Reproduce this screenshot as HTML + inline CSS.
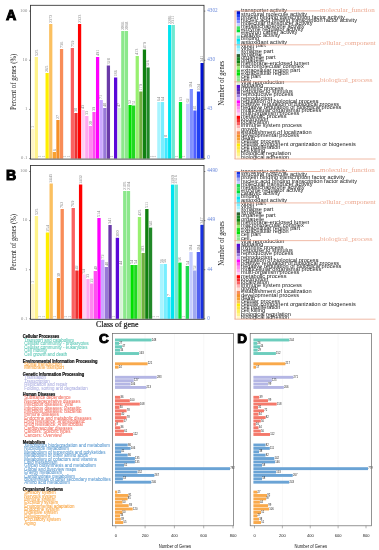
<!DOCTYPE html>
<html><head><meta charset="utf-8"><title>GO and KEGG classification</title>
<style>html,body{margin:0;padding:0;background:#fff;} body{width:379px;height:550px;overflow:hidden;position:relative;}</style>
</head><body>
<svg width="379" height="550" viewBox="0 0 379 550" style="position:absolute;left:0;top:0">
<rect width="379" height="550" fill="#fff"/>
<text x="5.9" y="19.60" font-family="'Liberation Sans', Arial, sans-serif" font-weight="bold" font-size="14.2" fill="#000" stroke="#000" stroke-width="1.0">A</text>
<rect x="31.10" y="129" width="3.25" height="29.60" fill="#fff6c8"/>
<text transform="translate(33.90,128.00) rotate(-90)" font-family="'Liberation Serif', 'Times New Roman', serif" font-size="4.2" fill="#858585">1</text>
<rect x="34.70" y="57" width="3.25" height="101.60" fill="#fff38a"/>
<text transform="translate(37.51,56.00) rotate(-90)" font-family="'Liberation Serif', 'Times New Roman', serif" font-size="4.2" fill="#858585">525</text>
<text transform="translate(41.11,157.60) rotate(-90)" font-family="'Liberation Serif', 'Times New Roman', serif" font-size="4.2" fill="#858585">1</text>
<text transform="translate(44.71,157.60) rotate(-90)" font-family="'Liberation Serif', 'Times New Roman', serif" font-size="4.2" fill="#858585">1</text>
<rect x="45.52" y="73" width="3.25" height="85.60" fill="#ffee00"/>
<text transform="translate(48.32,72.00) rotate(-90)" font-family="'Liberation Serif', 'Times New Roman', serif" font-size="4.2" fill="#858585">265</text>
<rect x="49.12" y="24" width="3.25" height="134.60" fill="#fbc060"/>
<text transform="translate(51.92,23.00) rotate(-90)" font-family="'Liberation Serif', 'Times New Roman', serif" font-size="4.2" fill="#858585">2372</text>
<rect x="52.72" y="152" width="3.25" height="6.60" fill="#f8a030"/>
<text transform="translate(55.53,151.00) rotate(-90)" font-family="'Liberation Serif', 'Times New Roman', serif" font-size="4.2" fill="#858585">6</text>
<rect x="56.33" y="120" width="3.25" height="38.60" fill="#f59028"/>
<text transform="translate(59.13,119.00) rotate(-90)" font-family="'Liberation Serif', 'Times New Roman', serif" font-size="4.2" fill="#858585">27</text>
<rect x="59.93" y="49" width="3.25" height="109.60" fill="#f88c58"/>
<text transform="translate(62.73,48.00) rotate(-90)" font-family="'Liberation Serif', 'Times New Roman', serif" font-size="4.2" fill="#858585">736</text>
<text transform="translate(66.34,157.60) rotate(-90)" font-family="'Liberation Serif', 'Times New Roman', serif" font-size="4.2" fill="#858585">1</text>
<text transform="translate(69.94,157.60) rotate(-90)" font-family="'Liberation Serif', 'Times New Roman', serif" font-size="4.2" fill="#858585">1</text>
<rect x="70.74" y="48" width="3.25" height="110.60" fill="#fa6060"/>
<text transform="translate(73.55,47.00) rotate(-90)" font-family="'Liberation Serif', 'Times New Roman', serif" font-size="4.2" fill="#858585">759</text>
<rect x="74.35" y="113" width="3.25" height="45.60" fill="#ee3030"/>
<text transform="translate(77.15,112.00) rotate(-90)" font-family="'Liberation Serif', 'Times New Roman', serif" font-size="4.2" fill="#858585">38</text>
<rect x="77.95" y="24" width="3.25" height="134.60" fill="#ff0000"/>
<text transform="translate(80.75,23.00) rotate(-90)" font-family="'Liberation Serif', 'Times New Roman', serif" font-size="4.2" fill="#858585">2323</text>
<rect x="81.56" y="110" width="3.25" height="48.60" fill="#ffd0f4"/>
<text transform="translate(84.36,109.00) rotate(-90)" font-family="'Liberation Serif', 'Times New Roman', serif" font-size="4.2" fill="#858585">43</text>
<rect x="85.16" y="116" width="3.25" height="42.60" fill="#ffa8f0"/>
<text transform="translate(87.96,115.00) rotate(-90)" font-family="'Liberation Serif', 'Times New Roman', serif" font-size="4.2" fill="#858585">33</text>
<rect x="88.76" y="126" width="3.25" height="32.60" fill="#ff88f0"/>
<text transform="translate(91.57,125.00) rotate(-90)" font-family="'Liberation Serif', 'Times New Roman', serif" font-size="4.2" fill="#858585">20</text>
<rect x="92.37" y="112" width="3.25" height="46.60" fill="#ff50f0"/>
<text transform="translate(95.17,111.00) rotate(-90)" font-family="'Liberation Serif', 'Times New Roman', serif" font-size="4.2" fill="#858585">39</text>
<rect x="95.97" y="57" width="3.25" height="101.60" fill="#ff00ff"/>
<text transform="translate(98.77,56.00) rotate(-90)" font-family="'Liberation Serif', 'Times New Roman', serif" font-size="4.2" fill="#858585">491</text>
<rect x="99.58" y="100" width="3.25" height="58.60" fill="#cca8ff"/>
<text transform="translate(102.38,99.00) rotate(-90)" font-family="'Liberation Serif', 'Times New Roman', serif" font-size="4.2" fill="#858585">71</text>
<rect x="103.18" y="108" width="3.25" height="50.60" fill="#9878d8"/>
<text transform="translate(105.98,107.00) rotate(-90)" font-family="'Liberation Serif', 'Times New Roman', serif" font-size="4.2" fill="#858585">48</text>
<rect x="106.78" y="65.5" width="3.25" height="93.10" fill="#6a3aa8"/>
<text transform="translate(109.59,64.50) rotate(-90)" font-family="'Liberation Serif', 'Times New Roman', serif" font-size="4.2" fill="#858585">328</text>
<text transform="translate(113.19,157.60) rotate(-90)" font-family="'Liberation Serif', 'Times New Roman', serif" font-size="4.2" fill="#858585">1</text>
<rect x="113.99" y="77.5" width="3.25" height="81.10" fill="#5a08d8"/>
<text transform="translate(116.79,76.50) rotate(-90)" font-family="'Liberation Serif', 'Times New Roman', serif" font-size="4.2" fill="#858585">186</text>
<rect x="117.60" y="108" width="3.25" height="50.60" fill="#d8f4d8"/>
<text transform="translate(120.40,107.00) rotate(-90)" font-family="'Liberation Serif', 'Times New Roman', serif" font-size="4.2" fill="#858585">47</text>
<rect x="121.20" y="31" width="3.25" height="127.60" fill="#8ce88c"/>
<text transform="translate(124.00,30.00) rotate(-90)" font-family="'Liberation Serif', 'Times New Roman', serif" font-size="4.2" fill="#858585">2066</text>
<rect x="124.80" y="31" width="3.25" height="127.60" fill="#8ce88c"/>
<text transform="translate(127.61,30.00) rotate(-90)" font-family="'Liberation Serif', 'Times New Roman', serif" font-size="4.2" fill="#858585">2068</text>
<rect x="128.41" y="105" width="3.25" height="53.60" fill="#00e000"/>
<text transform="translate(131.21,104.00) rotate(-90)" font-family="'Liberation Serif', 'Times New Roman', serif" font-size="4.2" fill="#858585">52</text>
<rect x="132.01" y="105.5" width="3.25" height="53.10" fill="#20d820"/>
<text transform="translate(134.81,104.50) rotate(-90)" font-family="'Liberation Serif', 'Times New Roman', serif" font-size="4.2" fill="#858585">51</text>
<rect x="135.62" y="56" width="3.25" height="102.60" fill="#98f070"/>
<text transform="translate(138.42,55.00) rotate(-90)" font-family="'Liberation Serif', 'Times New Roman', serif" font-size="4.2" fill="#858585">413</text>
<rect x="139.22" y="91.5" width="3.25" height="67.10" fill="#70b040"/>
<text transform="translate(142.02,90.50) rotate(-90)" font-family="'Liberation Serif', 'Times New Roman', serif" font-size="4.2" fill="#858585">179</text>
<rect x="142.82" y="49.5" width="3.25" height="109.10" fill="#108010"/>
<text transform="translate(145.63,48.50) rotate(-90)" font-family="'Liberation Serif', 'Times New Roman', serif" font-size="4.2" fill="#858585">479</text>
<rect x="146.43" y="67.5" width="3.25" height="91.10" fill="#208828"/>
<text transform="translate(149.23,66.50) rotate(-90)" font-family="'Liberation Serif', 'Times New Roman', serif" font-size="4.2" fill="#858585">326</text>
<text transform="translate(152.83,157.60) rotate(-90)" font-family="'Liberation Serif', 'Times New Roman', serif" font-size="4.2" fill="#858585">1</text>
<text transform="translate(156.44,157.60) rotate(-90)" font-family="'Liberation Serif', 'Times New Roman', serif" font-size="4.2" fill="#858585">1</text>
<rect x="157.24" y="102" width="3.25" height="56.60" fill="#a8f4ff"/>
<text transform="translate(160.04,101.00) rotate(-90)" font-family="'Liberation Serif', 'Times New Roman', serif" font-size="4.2" fill="#858585">64</text>
<rect x="160.84" y="102" width="3.25" height="56.60" fill="#78eeff"/>
<text transform="translate(163.65,101.00) rotate(-90)" font-family="'Liberation Serif', 'Times New Roman', serif" font-size="4.2" fill="#858585">64</text>
<rect x="164.45" y="138" width="3.25" height="20.60" fill="#40e8ff"/>
<text transform="translate(167.25,137.00) rotate(-90)" font-family="'Liberation Serif', 'Times New Roman', serif" font-size="4.2" fill="#858585">8</text>
<rect x="168.05" y="25" width="3.25" height="133.60" fill="#00e4f0"/>
<text transform="translate(170.85,24.00) rotate(-90)" font-family="'Liberation Serif', 'Times New Roman', serif" font-size="4.2" fill="#858585">2286</text>
<rect x="171.66" y="25" width="3.25" height="133.60" fill="#70e8d0"/>
<text transform="translate(174.46,24.00) rotate(-90)" font-family="'Liberation Serif', 'Times New Roman', serif" font-size="4.2" fill="#858585">2311</text>
<text transform="translate(178.06,157.60) rotate(-90)" font-family="'Liberation Serif', 'Times New Roman', serif" font-size="4.2" fill="#858585">1</text>
<rect x="178.86" y="102" width="3.25" height="56.60" fill="#00dd30"/>
<text transform="translate(181.67,101.00) rotate(-90)" font-family="'Liberation Serif', 'Times New Roman', serif" font-size="4.2" fill="#858585">63</text>
<text transform="translate(185.27,157.60) rotate(-90)" font-family="'Liberation Serif', 'Times New Roman', serif" font-size="4.2" fill="#858585">1</text>
<rect x="186.07" y="103.6" width="3.25" height="55.00" fill="#c4ccff"/>
<text transform="translate(188.87,102.60) rotate(-90)" font-family="'Liberation Serif', 'Times New Roman', serif" font-size="4.2" fill="#858585">62</text>
<rect x="189.68" y="89" width="3.25" height="69.60" fill="#8090ff"/>
<text transform="translate(192.48,88.00) rotate(-90)" font-family="'Liberation Serif', 'Times New Roman', serif" font-size="4.2" fill="#858585">104</text>
<rect x="193.28" y="110.5" width="3.25" height="48.10" fill="#5060ff"/>
<text transform="translate(196.08,109.50) rotate(-90)" font-family="'Liberation Serif', 'Times New Roman', serif" font-size="4.2" fill="#858585">41</text>
<rect x="196.88" y="91.5" width="3.25" height="67.10" fill="#2040f0"/>
<text transform="translate(199.69,90.50) rotate(-90)" font-family="'Liberation Serif', 'Times New Roman', serif" font-size="4.2" fill="#858585">104</text>
<rect x="200.49" y="63" width="3.25" height="95.60" fill="#0010d0"/>
<text transform="translate(203.29,62.00) rotate(-90)" font-family="'Liberation Serif', 'Times New Roman', serif" font-size="4.2" fill="#858585">341</text>
<rect x="30.5" y="5.3" width="173.5" height="153.79999999999998" fill="none" stroke="#303030" stroke-width="0.85"/>
<text x="27.6" y="11.90" text-anchor="end" font-family="'Liberation Serif', 'Times New Roman', serif" font-size="4.6" letter-spacing="0.25" fill="#8a8a8a">100</text>
<line x1="29.2" x2="30.5" y1="11.10" y2="11.10" stroke="#333" stroke-width="0.6"/>
<text x="27.6" y="61.07" text-anchor="end" font-family="'Liberation Serif', 'Times New Roman', serif" font-size="4.6" letter-spacing="0.25" fill="#8a8a8a">10</text>
<line x1="29.2" x2="30.5" y1="60.27" y2="60.27" stroke="#333" stroke-width="0.6"/>
<text x="27.6" y="110.23" text-anchor="end" font-family="'Liberation Serif', 'Times New Roman', serif" font-size="4.6" letter-spacing="0.25" fill="#8a8a8a">1</text>
<line x1="29.2" x2="30.5" y1="109.43" y2="109.43" stroke="#333" stroke-width="0.6"/>
<text x="27.6" y="159.40" text-anchor="end" font-family="'Liberation Serif', 'Times New Roman', serif" font-size="4.6" letter-spacing="0.25" fill="#8a8a8a">0.1</text>
<line x1="29.2" x2="30.5" y1="158.60" y2="158.60" stroke="#333" stroke-width="0.6"/>
<text x="207.2" y="11.90" font-family="'Liberation Serif', 'Times New Roman', serif" font-size="5.2" fill="#6a88da">4302</text>
<line x1="204" x2="205.3" y1="11.10" y2="11.10" stroke="#333" stroke-width="0.6"/>
<text x="207.2" y="61.07" font-family="'Liberation Serif', 'Times New Roman', serif" font-size="5.2" fill="#6a88da">430</text>
<line x1="204" x2="205.3" y1="60.27" y2="60.27" stroke="#333" stroke-width="0.6"/>
<text x="207.2" y="110.23" font-family="'Liberation Serif', 'Times New Roman', serif" font-size="5.2" fill="#6a88da">43</text>
<line x1="204" x2="205.3" y1="109.43" y2="109.43" stroke="#333" stroke-width="0.6"/>
<text x="207.2" y="159.40" font-family="'Liberation Serif', 'Times New Roman', serif" font-size="5.2" fill="#6a88da">0</text>
<line x1="204" x2="205.3" y1="158.60" y2="158.60" stroke="#333" stroke-width="0.6"/>
<text transform="translate(16.1,81.9) rotate(-90) scale(0.9,1)" text-anchor="middle" font-family="'Liberation Serif', 'Times New Roman', serif" font-size="7.5" fill="#2a2a2a">Percent of genes (%)</text>
<text transform="translate(223.6,83.2) rotate(-90) scale(0.9,1)" text-anchor="middle" font-family="'Liberation Serif', 'Times New Roman', serif" font-size="7.2" fill="#151515">Number of genes</text>
<rect x="236.7" y="10.90" width="3.3" height="3.14" fill="#0010d0"/>
<rect x="236.7" y="13.99" width="3.3" height="3.14" fill="#2040f0"/>
<rect x="236.7" y="17.07" width="3.3" height="3.14" fill="#5060ff"/>
<rect x="236.7" y="20.16" width="3.3" height="3.14" fill="#8090ff"/>
<rect x="236.7" y="23.24" width="3.3" height="3.14" fill="#c4ccff"/>
<rect x="236.7" y="26.33" width="3.3" height="3.14" fill="#40e060"/>
<rect x="236.7" y="29.41" width="3.3" height="3.14" fill="#00dd30"/>
<rect x="236.7" y="32.50" width="3.3" height="3.14" fill="#e0f8f0"/>
<rect x="236.7" y="35.58" width="3.3" height="3.14" fill="#70e8d0"/>
<rect x="236.7" y="38.67" width="3.3" height="3.14" fill="#00e4f0"/>
<rect x="236.7" y="41.75" width="3.3" height="3.14" fill="#40e8ff"/>
<rect x="236.7" y="44.84" width="3.3" height="3.14" fill="#78eeff"/>
<rect x="236.7" y="47.92" width="3.3" height="3.14" fill="#a8f4ff"/>
<rect x="236.7" y="51.01" width="3.3" height="3.14" fill="#c8f8ff"/>
<rect x="236.7" y="54.10" width="3.3" height="3.14" fill="#306030"/>
<rect x="236.7" y="57.18" width="3.3" height="3.14" fill="#208828"/>
<rect x="236.7" y="60.27" width="3.3" height="3.14" fill="#108010"/>
<rect x="236.7" y="63.35" width="3.3" height="3.14" fill="#70b040"/>
<rect x="236.7" y="66.44" width="3.3" height="3.14" fill="#98f070"/>
<rect x="236.7" y="69.52" width="3.3" height="3.14" fill="#20d820"/>
<rect x="236.7" y="72.61" width="3.3" height="3.14" fill="#00e000"/>
<rect x="236.7" y="75.69" width="3.3" height="3.14" fill="#8ce88c"/>
<rect x="236.7" y="78.78" width="3.3" height="3.14" fill="#8ce88c"/>
<rect x="236.7" y="81.86" width="3.3" height="3.14" fill="#d8f4d8"/>
<rect x="236.7" y="84.95" width="3.3" height="3.14" fill="#5a08d8"/>
<rect x="236.7" y="88.04" width="3.3" height="3.14" fill="#5028b8"/>
<rect x="236.7" y="91.12" width="3.3" height="3.14" fill="#6a3aa8"/>
<rect x="236.7" y="94.21" width="3.3" height="3.14" fill="#9878d8"/>
<rect x="236.7" y="97.29" width="3.3" height="3.14" fill="#cca8ff"/>
<rect x="236.7" y="100.38" width="3.3" height="3.14" fill="#ff00ff"/>
<rect x="236.7" y="103.46" width="3.3" height="3.14" fill="#ff50f0"/>
<rect x="236.7" y="106.55" width="3.3" height="3.14" fill="#ff88f0"/>
<rect x="236.7" y="109.63" width="3.3" height="3.14" fill="#ffa8f0"/>
<rect x="236.7" y="112.72" width="3.3" height="3.14" fill="#ffd0f4"/>
<rect x="236.7" y="115.80" width="3.3" height="3.14" fill="#ff0000"/>
<rect x="236.7" y="118.89" width="3.3" height="3.14" fill="#ee3030"/>
<rect x="236.7" y="121.98" width="3.3" height="3.14" fill="#fa6060"/>
<rect x="236.7" y="125.06" width="3.3" height="3.14" fill="#ffb0b0"/>
<rect x="236.7" y="128.15" width="3.3" height="3.14" fill="#ffe0d8"/>
<rect x="236.7" y="131.23" width="3.3" height="3.14" fill="#f88c58"/>
<rect x="236.7" y="134.32" width="3.3" height="3.14" fill="#f59028"/>
<rect x="236.7" y="137.40" width="3.3" height="3.14" fill="#f8a030"/>
<rect x="236.7" y="140.49" width="3.3" height="3.14" fill="#fbc060"/>
<rect x="236.7" y="143.57" width="3.3" height="3.14" fill="#ffee00"/>
<rect x="236.7" y="146.66" width="3.3" height="3.14" fill="#ffe840"/>
<rect x="236.7" y="149.74" width="3.3" height="3.14" fill="#fff060"/>
<rect x="236.7" y="152.83" width="3.3" height="3.14" fill="#fff38a"/>
<rect x="236.7" y="155.91" width="3.3" height="3.14" fill="#fff6c8"/>
<text transform="translate(241.0,12.40) scale(1.23,1)" font-family="'Liberation Sans', Arial, sans-serif" font-size="4.6" fill="#222">transporter activity</text>
<text transform="translate(241.0,15.51) scale(1.23,1)" font-family="'Liberation Sans', Arial, sans-serif" font-size="4.6" fill="#222">structural molecule activity</text>
<text transform="translate(241.0,18.62) scale(1.23,1)" font-family="'Liberation Sans', Arial, sans-serif" font-size="4.6" fill="#222">protein binding transcription factor activity</text>
<text transform="translate(241.0,21.73) scale(1.23,1)" font-family="'Liberation Sans', Arial, sans-serif" font-size="4.6" fill="#222">nucleic acid binding transcription factor activity</text>
<text transform="translate(241.0,24.84) scale(1.23,1)" font-family="'Liberation Sans', Arial, sans-serif" font-size="4.6" fill="#222">molecular transducer activity</text>
<text transform="translate(241.0,27.95) scale(1.23,1)" font-family="'Liberation Sans', Arial, sans-serif" font-size="4.6" fill="#222">metallochaperone activity</text>
<text transform="translate(241.0,31.06) scale(1.23,1)" font-family="'Liberation Sans', Arial, sans-serif" font-size="4.6" fill="#222">enzyme regulator activity</text>
<text transform="translate(241.0,34.17) scale(1.23,1)" font-family="'Liberation Sans', Arial, sans-serif" font-size="4.6" fill="#222">electron carrier activity</text>
<text transform="translate(241.0,37.29) scale(1.23,1)" font-family="'Liberation Sans', Arial, sans-serif" font-size="4.6" fill="#222">catalytic activity</text>
<text transform="translate(241.0,40.40) scale(1.23,1)" font-family="'Liberation Sans', Arial, sans-serif" font-size="4.6" fill="#222">binding</text>
<text transform="translate(241.0,43.51) scale(1.23,1)" font-family="'Liberation Sans', Arial, sans-serif" font-size="4.6" fill="#222">antioxidant activity</text>
<text transform="translate(241.0,46.62) scale(1.23,1)" font-family="'Liberation Sans', Arial, sans-serif" font-size="4.6" fill="#222">virion part</text>
<text transform="translate(241.0,49.73) scale(1.23,1)" font-family="'Liberation Sans', Arial, sans-serif" font-size="4.6" fill="#222">virion</text>
<text transform="translate(241.0,52.84) scale(1.23,1)" font-family="'Liberation Sans', Arial, sans-serif" font-size="4.6" fill="#222">synapse part</text>
<text transform="translate(241.0,55.95) scale(1.23,1)" font-family="'Liberation Sans', Arial, sans-serif" font-size="4.6" fill="#222">synapse</text>
<text transform="translate(241.0,59.06) scale(1.23,1)" font-family="'Liberation Sans', Arial, sans-serif" font-size="4.6" fill="#222">organelle part</text>
<text transform="translate(241.0,62.17) scale(1.23,1)" font-family="'Liberation Sans', Arial, sans-serif" font-size="4.6" fill="#222">organelle</text>
<text transform="translate(241.0,65.28) scale(1.23,1)" font-family="'Liberation Sans', Arial, sans-serif" font-size="4.6" fill="#222">membrane-enclosed lumen</text>
<text transform="translate(241.0,68.39) scale(1.23,1)" font-family="'Liberation Sans', Arial, sans-serif" font-size="4.6" fill="#222">macromolecular complex</text>
<text transform="translate(241.0,71.50) scale(1.23,1)" font-family="'Liberation Sans', Arial, sans-serif" font-size="4.6" fill="#222">extracellular region part</text>
<text transform="translate(241.0,74.61) scale(1.23,1)" font-family="'Liberation Sans', Arial, sans-serif" font-size="4.6" fill="#222">extracellular region</text>
<text transform="translate(241.0,77.72) scale(1.23,1)" font-family="'Liberation Sans', Arial, sans-serif" font-size="4.6" fill="#222">cell part</text>
<text transform="translate(241.0,80.83) scale(1.23,1)" font-family="'Liberation Sans', Arial, sans-serif" font-size="4.6" fill="#222">cell</text>
<text transform="translate(241.0,83.94) scale(1.23,1)" font-family="'Liberation Sans', Arial, sans-serif" font-size="4.6" fill="#222">viral reproduction</text>
<text transform="translate(241.0,87.06) scale(1.23,1)" font-family="'Liberation Sans', Arial, sans-serif" font-size="4.6" fill="#222">signaling</text>
<text transform="translate(241.0,90.17) scale(1.23,1)" font-family="'Liberation Sans', Arial, sans-serif" font-size="4.6" fill="#222">rhythmic process</text>
<text transform="translate(241.0,93.28) scale(1.23,1)" font-family="'Liberation Sans', Arial, sans-serif" font-size="4.6" fill="#222">response to stimulus</text>
<text transform="translate(241.0,96.39) scale(1.23,1)" font-family="'Liberation Sans', Arial, sans-serif" font-size="4.6" fill="#222">reproductive process</text>
<text transform="translate(241.0,99.50) scale(1.23,1)" font-family="'Liberation Sans', Arial, sans-serif" font-size="4.6" fill="#222">reproduction</text>
<text transform="translate(241.0,102.61) scale(1.23,1)" font-family="'Liberation Sans', Arial, sans-serif" font-size="4.6" fill="#222">regulation of biological process</text>
<text transform="translate(241.0,105.72) scale(1.23,1)" font-family="'Liberation Sans', Arial, sans-serif" font-size="4.6" fill="#222">positive regulation of biological process</text>
<text transform="translate(241.0,108.83) scale(1.23,1)" font-family="'Liberation Sans', Arial, sans-serif" font-size="4.6" fill="#222">negative regulation of biological process</text>
<text transform="translate(241.0,111.94) scale(1.23,1)" font-family="'Liberation Sans', Arial, sans-serif" font-size="4.6" fill="#222">multicellular organismal process</text>
<text transform="translate(241.0,115.05) scale(1.23,1)" font-family="'Liberation Sans', Arial, sans-serif" font-size="4.6" fill="#222">multi-organism process</text>
<text transform="translate(241.0,118.16) scale(1.23,1)" font-family="'Liberation Sans', Arial, sans-serif" font-size="4.6" fill="#222">metabolic process</text>
<text transform="translate(241.0,121.27) scale(1.23,1)" font-family="'Liberation Sans', Arial, sans-serif" font-size="4.6" fill="#222">locomotion</text>
<text transform="translate(241.0,124.38) scale(1.23,1)" font-family="'Liberation Sans', Arial, sans-serif" font-size="4.6" fill="#222">localization</text>
<text transform="translate(241.0,127.49) scale(1.23,1)" font-family="'Liberation Sans', Arial, sans-serif" font-size="4.6" fill="#222">immune system process</text>
<text transform="translate(241.0,130.60) scale(1.23,1)" font-family="'Liberation Sans', Arial, sans-serif" font-size="4.6" fill="#222">growth</text>
<text transform="translate(241.0,133.71) scale(1.23,1)" font-family="'Liberation Sans', Arial, sans-serif" font-size="4.6" fill="#222">establishment of localization</text>
<text transform="translate(241.0,136.83) scale(1.23,1)" font-family="'Liberation Sans', Arial, sans-serif" font-size="4.6" fill="#222">developmental process</text>
<text transform="translate(241.0,139.94) scale(1.23,1)" font-family="'Liberation Sans', Arial, sans-serif" font-size="4.6" fill="#222">death</text>
<text transform="translate(241.0,143.05) scale(1.23,1)" font-family="'Liberation Sans', Arial, sans-serif" font-size="4.6" fill="#222">cellular process</text>
<text transform="translate(241.0,146.16) scale(1.23,1)" font-family="'Liberation Sans', Arial, sans-serif" font-size="4.6" fill="#222">cellular component organization or biogenesis</text>
<text transform="translate(241.0,149.27) scale(1.23,1)" font-family="'Liberation Sans', Arial, sans-serif" font-size="4.6" fill="#222">cell proliferation</text>
<text transform="translate(241.0,152.38) scale(1.23,1)" font-family="'Liberation Sans', Arial, sans-serif" font-size="4.6" fill="#222">cell killing</text>
<text transform="translate(241.0,155.49) scale(1.23,1)" font-family="'Liberation Sans', Arial, sans-serif" font-size="4.6" fill="#222">biological regulation</text>
<text transform="translate(241.0,158.60) scale(1.23,1)" font-family="'Liberation Sans', Arial, sans-serif" font-size="4.6" fill="#222">biological adhesion</text>
<line x1="235.1" x2="235.1" y1="10.9" y2="159.0" stroke="#f2bfae" stroke-width="1.4"/>
<line x1="234.5" x2="320" y1="10.90" y2="10.90" stroke="#eca890" stroke-width="0.8"/>
<text x="320.0" y="11.50" font-family="'Liberation Serif', 'Times New Roman', serif" font-size="7.0" fill="#eca890">molecular_function</text>
<line x1="234.5" x2="320" y1="44.84" y2="44.84" stroke="#eca890" stroke-width="0.8"/>
<text x="320.0" y="45.44" font-family="'Liberation Serif', 'Times New Roman', serif" font-size="7.0" fill="#eca890">cellular_component</text>
<line x1="234.5" x2="320" y1="81.86" y2="81.86" stroke="#eca890" stroke-width="0.8"/>
<text x="320.0" y="82.46" font-family="'Liberation Serif', 'Times New Roman', serif" font-size="7.0" fill="#eca890">biological_process</text>
<line x1="234.5" x2="375.5" y1="159.0" y2="159.0" stroke="#eca890" stroke-width="0.8"/>
<text x="5.9" y="179.80" font-family="'Liberation Sans', Arial, sans-serif" font-weight="bold" font-size="14.2" fill="#000" stroke="#000" stroke-width="1.0">B</text>
<rect x="31.10" y="284" width="3.33" height="34.80" fill="#fff6c8"/>
<text transform="translate(33.94,283.00) rotate(-90)" font-family="'Liberation Serif', 'Times New Roman', serif" font-size="4.2" fill="#858585">1</text>
<rect x="34.78" y="216" width="3.33" height="102.80" fill="#fff38a"/>
<text transform="translate(37.62,215.00) rotate(-90)" font-family="'Liberation Serif', 'Times New Roman', serif" font-size="4.2" fill="#858585">525</text>
<text transform="translate(41.30,317.80) rotate(-90)" font-family="'Liberation Serif', 'Times New Roman', serif" font-size="4.2" fill="#858585">1</text>
<text transform="translate(44.98,317.80) rotate(-90)" font-family="'Liberation Serif', 'Times New Roman', serif" font-size="4.2" fill="#858585">1</text>
<rect x="45.82" y="232.5" width="3.33" height="86.30" fill="#ffee00"/>
<text transform="translate(48.66,231.50) rotate(-90)" font-family="'Liberation Serif', 'Times New Roman', serif" font-size="4.2" fill="#858585">254</text>
<rect x="49.50" y="183.5" width="3.33" height="135.30" fill="#fbc060"/>
<text transform="translate(52.34,182.50) rotate(-90)" font-family="'Liberation Serif', 'Times New Roman', serif" font-size="4.2" fill="#858585">2443</text>
<text transform="translate(56.02,317.80) rotate(-90)" font-family="'Liberation Serif', 'Times New Roman', serif" font-size="4.2" fill="#858585">1</text>
<rect x="56.86" y="278" width="3.33" height="40.80" fill="#f59028"/>
<text transform="translate(59.70,277.00) rotate(-90)" font-family="'Liberation Serif', 'Times New Roman', serif" font-size="4.2" fill="#858585">30</text>
<rect x="60.54" y="209" width="3.33" height="109.80" fill="#f88c58"/>
<text transform="translate(63.38,208.00) rotate(-90)" font-family="'Liberation Serif', 'Times New Roman', serif" font-size="4.2" fill="#858585">762</text>
<text transform="translate(67.06,317.80) rotate(-90)" font-family="'Liberation Serif', 'Times New Roman', serif" font-size="4.2" fill="#858585">1</text>
<text transform="translate(70.74,317.80) rotate(-90)" font-family="'Liberation Serif', 'Times New Roman', serif" font-size="4.2" fill="#858585">1</text>
<rect x="71.58" y="208" width="3.33" height="110.80" fill="#fa6060"/>
<text transform="translate(74.42,207.00) rotate(-90)" font-family="'Liberation Serif', 'Times New Roman', serif" font-size="4.2" fill="#858585">769</text>
<rect x="75.26" y="270.5" width="3.33" height="48.30" fill="#ee3030"/>
<text transform="translate(78.10,269.50) rotate(-90)" font-family="'Liberation Serif', 'Times New Roman', serif" font-size="4.2" fill="#858585">42</text>
<rect x="78.94" y="184.5" width="3.33" height="134.30" fill="#ff0000"/>
<text transform="translate(81.78,183.50) rotate(-90)" font-family="'Liberation Serif', 'Times New Roman', serif" font-size="4.2" fill="#858585">2432</text>
<rect x="82.62" y="274.4" width="3.33" height="44.40" fill="#ffd0f4"/>
<text transform="translate(85.46,273.40) rotate(-90)" font-family="'Liberation Serif', 'Times New Roman', serif" font-size="4.2" fill="#858585">34</text>
<rect x="86.30" y="279" width="3.33" height="39.80" fill="#ffa8f0"/>
<text transform="translate(89.14,278.00) rotate(-90)" font-family="'Liberation Serif', 'Times New Roman', serif" font-size="4.2" fill="#858585">33</text>
<rect x="89.98" y="283.5" width="3.33" height="35.30" fill="#ff88f0"/>
<text transform="translate(92.82,282.50) rotate(-90)" font-family="'Liberation Serif', 'Times New Roman', serif" font-size="4.2" fill="#858585">22</text>
<rect x="93.66" y="271" width="3.33" height="47.80" fill="#ff50f0"/>
<text transform="translate(96.50,270.00) rotate(-90)" font-family="'Liberation Serif', 'Times New Roman', serif" font-size="4.2" fill="#858585">40</text>
<rect x="97.34" y="218" width="3.33" height="100.80" fill="#ff00ff"/>
<text transform="translate(100.18,217.00) rotate(-90)" font-family="'Liberation Serif', 'Times New Roman', serif" font-size="4.2" fill="#858585">514</text>
<rect x="101.02" y="259.7" width="3.33" height="59.10" fill="#cca8ff"/>
<text transform="translate(103.86,258.70) rotate(-90)" font-family="'Liberation Serif', 'Times New Roman', serif" font-size="4.2" fill="#858585">72</text>
<rect x="104.70" y="267" width="3.33" height="51.80" fill="#9878d8"/>
<text transform="translate(107.54,266.00) rotate(-90)" font-family="'Liberation Serif', 'Times New Roman', serif" font-size="4.2" fill="#858585">48</text>
<rect x="108.38" y="225" width="3.33" height="93.80" fill="#6a3aa8"/>
<text transform="translate(111.22,224.00) rotate(-90)" font-family="'Liberation Serif', 'Times New Roman', serif" font-size="4.2" fill="#858585">341</text>
<text transform="translate(114.90,317.80) rotate(-90)" font-family="'Liberation Serif', 'Times New Roman', serif" font-size="4.2" fill="#858585">1</text>
<rect x="115.74" y="237.8" width="3.33" height="81.00" fill="#5a08d8"/>
<text transform="translate(118.58,236.80) rotate(-90)" font-family="'Liberation Serif', 'Times New Roman', serif" font-size="4.2" fill="#858585">200</text>
<rect x="119.42" y="266" width="3.33" height="52.80" fill="#d8f4d8"/>
<text transform="translate(122.26,265.00) rotate(-90)" font-family="'Liberation Serif', 'Times New Roman', serif" font-size="4.2" fill="#858585">44</text>
<rect x="123.10" y="191" width="3.33" height="127.80" fill="#8ce88c"/>
<text transform="translate(125.94,190.00) rotate(-90)" font-family="'Liberation Serif', 'Times New Roman', serif" font-size="4.2" fill="#858585">2105</text>
<rect x="126.78" y="191" width="3.33" height="127.80" fill="#8ce88c"/>
<text transform="translate(129.62,190.00) rotate(-90)" font-family="'Liberation Serif', 'Times New Roman', serif" font-size="4.2" fill="#858585">2104</text>
<rect x="130.46" y="265" width="3.33" height="53.80" fill="#00e000"/>
<text transform="translate(133.30,264.00) rotate(-90)" font-family="'Liberation Serif', 'Times New Roman', serif" font-size="4.2" fill="#858585">54</text>
<rect x="134.14" y="265" width="3.33" height="53.80" fill="#20d820"/>
<text transform="translate(136.98,264.00) rotate(-90)" font-family="'Liberation Serif', 'Times New Roman', serif" font-size="4.2" fill="#858585">54</text>
<rect x="137.82" y="217" width="3.33" height="101.80" fill="#98f070"/>
<text transform="translate(140.66,216.00) rotate(-90)" font-family="'Liberation Serif', 'Times New Roman', serif" font-size="4.2" fill="#858585">425</text>
<rect x="141.50" y="253" width="3.33" height="65.80" fill="#70b040"/>
<text transform="translate(144.34,252.00) rotate(-90)" font-family="'Liberation Serif', 'Times New Roman', serif" font-size="4.2" fill="#858585">183</text>
<rect x="145.18" y="209" width="3.33" height="109.80" fill="#108010"/>
<text transform="translate(148.02,208.00) rotate(-90)" font-family="'Liberation Serif', 'Times New Roman', serif" font-size="4.2" fill="#858585">511</text>
<rect x="148.86" y="227.6" width="3.33" height="91.20" fill="#208828"/>
<text transform="translate(151.70,226.60) rotate(-90)" font-family="'Liberation Serif', 'Times New Roman', serif" font-size="4.2" fill="#858585">341</text>
<text transform="translate(155.38,317.80) rotate(-90)" font-family="'Liberation Serif', 'Times New Roman', serif" font-size="4.2" fill="#858585">1</text>
<text transform="translate(159.06,317.80) rotate(-90)" font-family="'Liberation Serif', 'Times New Roman', serif" font-size="4.2" fill="#858585">1</text>
<rect x="159.90" y="264" width="3.33" height="54.80" fill="#a8f4ff"/>
<text transform="translate(162.74,263.00) rotate(-90)" font-family="'Liberation Serif', 'Times New Roman', serif" font-size="4.2" fill="#858585">56</text>
<rect x="163.58" y="264" width="3.33" height="54.80" fill="#78eeff"/>
<text transform="translate(166.42,263.00) rotate(-90)" font-family="'Liberation Serif', 'Times New Roman', serif" font-size="4.2" fill="#858585">56</text>
<rect x="167.26" y="297" width="3.33" height="21.80" fill="#40e8ff"/>
<text transform="translate(170.10,296.00) rotate(-90)" font-family="'Liberation Serif', 'Times New Roman', serif" font-size="4.2" fill="#858585">7</text>
<rect x="170.94" y="184.6" width="3.33" height="134.20" fill="#00e4f0"/>
<text transform="translate(173.78,183.60) rotate(-90)" font-family="'Liberation Serif', 'Times New Roman', serif" font-size="4.2" fill="#858585">2289</text>
<rect x="174.62" y="184.6" width="3.33" height="134.20" fill="#70e8d0"/>
<text transform="translate(177.46,183.60) rotate(-90)" font-family="'Liberation Serif', 'Times New Roman', serif" font-size="4.2" fill="#858585">2316</text>
<rect x="178.30" y="262.6" width="3.33" height="56.20" fill="#00dd30"/>
<text transform="translate(181.14,261.60) rotate(-90)" font-family="'Liberation Serif', 'Times New Roman', serif" font-size="4.2" fill="#858585">58</text>
<text transform="translate(184.82,317.80) rotate(-90)" font-family="'Liberation Serif', 'Times New Roman', serif" font-size="4.2" fill="#858585">1</text>
<rect x="185.66" y="266" width="3.33" height="52.80" fill="#20d850"/>
<text transform="translate(188.50,265.00) rotate(-90)" font-family="'Liberation Serif', 'Times New Roman', serif" font-size="4.2" fill="#858585">54</text>
<rect x="189.34" y="252" width="3.33" height="66.80" fill="#c4ccff"/>
<text transform="translate(192.18,251.00) rotate(-90)" font-family="'Liberation Serif', 'Times New Roman', serif" font-size="4.2" fill="#858585">104</text>
<rect x="193.02" y="270.5" width="3.33" height="48.30" fill="#a0a8f0"/>
<text transform="translate(195.86,269.50) rotate(-90)" font-family="'Liberation Serif', 'Times New Roman', serif" font-size="4.2" fill="#858585">52</text>
<rect x="196.70" y="252" width="3.33" height="66.80" fill="#5060f0"/>
<text transform="translate(199.54,251.00) rotate(-90)" font-family="'Liberation Serif', 'Times New Roman', serif" font-size="4.2" fill="#858585">104</text>
<rect x="200.38" y="224.8" width="3.33" height="94.00" fill="#1830e0"/>
<text transform="translate(203.22,223.80) rotate(-90)" font-family="'Liberation Serif', 'Times New Roman', serif" font-size="4.2" fill="#858585">347</text>
<rect x="30.5" y="165.5" width="173.5" height="153.8" fill="none" stroke="#303030" stroke-width="0.85"/>
<text x="27.6" y="172.30" text-anchor="end" font-family="'Liberation Serif', 'Times New Roman', serif" font-size="4.6" letter-spacing="0.25" fill="#8a8a8a">100</text>
<line x1="29.2" x2="30.5" y1="171.50" y2="171.50" stroke="#333" stroke-width="0.6"/>
<text x="27.6" y="221.40" text-anchor="end" font-family="'Liberation Serif', 'Times New Roman', serif" font-size="4.6" letter-spacing="0.25" fill="#8a8a8a">10</text>
<line x1="29.2" x2="30.5" y1="220.60" y2="220.60" stroke="#333" stroke-width="0.6"/>
<text x="27.6" y="270.50" text-anchor="end" font-family="'Liberation Serif', 'Times New Roman', serif" font-size="4.6" letter-spacing="0.25" fill="#8a8a8a">1</text>
<line x1="29.2" x2="30.5" y1="269.70" y2="269.70" stroke="#333" stroke-width="0.6"/>
<text x="27.6" y="319.60" text-anchor="end" font-family="'Liberation Serif', 'Times New Roman', serif" font-size="4.6" letter-spacing="0.25" fill="#8a8a8a">0.1</text>
<line x1="29.2" x2="30.5" y1="318.80" y2="318.80" stroke="#333" stroke-width="0.6"/>
<text x="207.2" y="172.30" font-family="'Liberation Serif', 'Times New Roman', serif" font-size="5.2" fill="#6a88da">4490</text>
<line x1="204" x2="205.3" y1="171.50" y2="171.50" stroke="#333" stroke-width="0.6"/>
<text x="207.2" y="221.40" font-family="'Liberation Serif', 'Times New Roman', serif" font-size="5.2" fill="#6a88da">449</text>
<line x1="204" x2="205.3" y1="220.60" y2="220.60" stroke="#333" stroke-width="0.6"/>
<text x="207.2" y="270.50" font-family="'Liberation Serif', 'Times New Roman', serif" font-size="5.2" fill="#6a88da">44</text>
<line x1="204" x2="205.3" y1="269.70" y2="269.70" stroke="#333" stroke-width="0.6"/>
<text x="207.2" y="319.60" font-family="'Liberation Serif', 'Times New Roman', serif" font-size="5.2" fill="#6a88da">0</text>
<line x1="204" x2="205.3" y1="318.80" y2="318.80" stroke="#333" stroke-width="0.6"/>
<text transform="translate(16.1,242.1) rotate(-90) scale(0.9,1)" text-anchor="middle" font-family="'Liberation Serif', 'Times New Roman', serif" font-size="7.5" fill="#2a2a2a">Percent of genes (%)</text>
<text transform="translate(223.6,243.4) rotate(-90) scale(0.9,1)" text-anchor="middle" font-family="'Liberation Serif', 'Times New Roman', serif" font-size="7.2" fill="#151515">Number of genes</text>
<text x="117.2" y="326.5" text-anchor="middle" font-family="'Liberation Serif', 'Times New Roman', serif" font-size="7.9" fill="#111" stroke="#111" stroke-width="0.18">Class of gene</text>
<rect x="236.7" y="171.50" width="3.3" height="3.19" fill="#1830e0"/>
<rect x="236.7" y="174.64" width="3.3" height="3.19" fill="#5060f0"/>
<rect x="236.7" y="177.79" width="3.3" height="3.19" fill="#a0a8f0"/>
<rect x="236.7" y="180.93" width="3.3" height="3.19" fill="#c4ccff"/>
<rect x="236.7" y="184.07" width="3.3" height="3.19" fill="#20d850"/>
<rect x="236.7" y="187.21" width="3.3" height="3.19" fill="#40e060"/>
<rect x="236.7" y="190.36" width="3.3" height="3.19" fill="#00dd30"/>
<rect x="236.7" y="193.50" width="3.3" height="3.19" fill="#70e8d0"/>
<rect x="236.7" y="196.64" width="3.3" height="3.19" fill="#00e4f0"/>
<rect x="236.7" y="199.78" width="3.3" height="3.19" fill="#40e8ff"/>
<rect x="236.7" y="202.93" width="3.3" height="3.19" fill="#78eeff"/>
<rect x="236.7" y="206.07" width="3.3" height="3.19" fill="#a8f4ff"/>
<rect x="236.7" y="209.21" width="3.3" height="3.19" fill="#c8f8ff"/>
<rect x="236.7" y="212.35" width="3.3" height="3.19" fill="#306030"/>
<rect x="236.7" y="215.50" width="3.3" height="3.19" fill="#208828"/>
<rect x="236.7" y="218.64" width="3.3" height="3.19" fill="#108010"/>
<rect x="236.7" y="221.78" width="3.3" height="3.19" fill="#70b040"/>
<rect x="236.7" y="224.92" width="3.3" height="3.19" fill="#98f070"/>
<rect x="236.7" y="228.07" width="3.3" height="3.19" fill="#20d820"/>
<rect x="236.7" y="231.21" width="3.3" height="3.19" fill="#00e000"/>
<rect x="236.7" y="234.35" width="3.3" height="3.19" fill="#8ce88c"/>
<rect x="236.7" y="237.49" width="3.3" height="3.19" fill="#8ce88c"/>
<rect x="236.7" y="240.64" width="3.3" height="3.19" fill="#d8f4d8"/>
<rect x="236.7" y="243.78" width="3.3" height="3.19" fill="#5a08d8"/>
<rect x="236.7" y="246.92" width="3.3" height="3.19" fill="#5028b8"/>
<rect x="236.7" y="250.06" width="3.3" height="3.19" fill="#6a3aa8"/>
<rect x="236.7" y="253.21" width="3.3" height="3.19" fill="#9878d8"/>
<rect x="236.7" y="256.35" width="3.3" height="3.19" fill="#cca8ff"/>
<rect x="236.7" y="259.49" width="3.3" height="3.19" fill="#ff00ff"/>
<rect x="236.7" y="262.63" width="3.3" height="3.19" fill="#ff50f0"/>
<rect x="236.7" y="265.78" width="3.3" height="3.19" fill="#ff88f0"/>
<rect x="236.7" y="268.92" width="3.3" height="3.19" fill="#ffa8f0"/>
<rect x="236.7" y="272.06" width="3.3" height="3.19" fill="#ffd0f4"/>
<rect x="236.7" y="275.20" width="3.3" height="3.19" fill="#ff0000"/>
<rect x="236.7" y="278.35" width="3.3" height="3.19" fill="#ee3030"/>
<rect x="236.7" y="281.49" width="3.3" height="3.19" fill="#fa6060"/>
<rect x="236.7" y="284.63" width="3.3" height="3.19" fill="#ffb0b0"/>
<rect x="236.7" y="287.77" width="3.3" height="3.19" fill="#ffe0d8"/>
<rect x="236.7" y="290.92" width="3.3" height="3.19" fill="#f88c58"/>
<rect x="236.7" y="294.06" width="3.3" height="3.19" fill="#f59028"/>
<rect x="236.7" y="297.20" width="3.3" height="3.19" fill="#f8a030"/>
<rect x="236.7" y="300.34" width="3.3" height="3.19" fill="#fbc060"/>
<rect x="236.7" y="303.49" width="3.3" height="3.19" fill="#ffee00"/>
<rect x="236.7" y="306.63" width="3.3" height="3.19" fill="#ffe840"/>
<rect x="236.7" y="309.77" width="3.3" height="3.19" fill="#fff060"/>
<rect x="236.7" y="312.91" width="3.3" height="3.19" fill="#fff38a"/>
<rect x="236.7" y="316.06" width="3.3" height="3.19" fill="#fff6c8"/>
<text transform="translate(241.0,173.00) scale(1.23,1)" font-family="'Liberation Sans', Arial, sans-serif" font-size="4.6" fill="#222">transporter activity</text>
<text transform="translate(241.0,176.17) scale(1.23,1)" font-family="'Liberation Sans', Arial, sans-serif" font-size="4.6" fill="#222">structural molecule activity</text>
<text transform="translate(241.0,179.34) scale(1.23,1)" font-family="'Liberation Sans', Arial, sans-serif" font-size="4.6" fill="#222">protein binding transcription factor activity</text>
<text transform="translate(241.0,182.51) scale(1.23,1)" font-family="'Liberation Sans', Arial, sans-serif" font-size="4.6" fill="#222">nucleic acid binding transcription factor activity</text>
<text transform="translate(241.0,185.68) scale(1.23,1)" font-family="'Liberation Sans', Arial, sans-serif" font-size="4.6" fill="#222">molecular transducer activity</text>
<text transform="translate(241.0,188.85) scale(1.23,1)" font-family="'Liberation Sans', Arial, sans-serif" font-size="4.6" fill="#222">metallochaperone activity</text>
<text transform="translate(241.0,192.02) scale(1.23,1)" font-family="'Liberation Sans', Arial, sans-serif" font-size="4.6" fill="#222">enzyme regulator activity</text>
<text transform="translate(241.0,195.19) scale(1.23,1)" font-family="'Liberation Sans', Arial, sans-serif" font-size="4.6" fill="#222">catalytic activity</text>
<text transform="translate(241.0,198.36) scale(1.23,1)" font-family="'Liberation Sans', Arial, sans-serif" font-size="4.6" fill="#222">binding</text>
<text transform="translate(241.0,201.53) scale(1.23,1)" font-family="'Liberation Sans', Arial, sans-serif" font-size="4.6" fill="#222">antioxidant activity</text>
<text transform="translate(241.0,204.70) scale(1.23,1)" font-family="'Liberation Sans', Arial, sans-serif" font-size="4.6" fill="#222">virion part</text>
<text transform="translate(241.0,207.87) scale(1.23,1)" font-family="'Liberation Sans', Arial, sans-serif" font-size="4.6" fill="#222">virion</text>
<text transform="translate(241.0,211.03) scale(1.23,1)" font-family="'Liberation Sans', Arial, sans-serif" font-size="4.6" fill="#222">synapse part</text>
<text transform="translate(241.0,214.20) scale(1.23,1)" font-family="'Liberation Sans', Arial, sans-serif" font-size="4.6" fill="#222">synapse</text>
<text transform="translate(241.0,217.37) scale(1.23,1)" font-family="'Liberation Sans', Arial, sans-serif" font-size="4.6" fill="#222">organelle part</text>
<text transform="translate(241.0,220.54) scale(1.23,1)" font-family="'Liberation Sans', Arial, sans-serif" font-size="4.6" fill="#222">organelle</text>
<text transform="translate(241.0,223.71) scale(1.23,1)" font-family="'Liberation Sans', Arial, sans-serif" font-size="4.6" fill="#222">membrane-enclosed lumen</text>
<text transform="translate(241.0,226.88) scale(1.23,1)" font-family="'Liberation Sans', Arial, sans-serif" font-size="4.6" fill="#222">macromolecular complex</text>
<text transform="translate(241.0,230.05) scale(1.23,1)" font-family="'Liberation Sans', Arial, sans-serif" font-size="4.6" fill="#222">extracellular region part</text>
<text transform="translate(241.0,233.22) scale(1.23,1)" font-family="'Liberation Sans', Arial, sans-serif" font-size="4.6" fill="#222">extracellular region</text>
<text transform="translate(241.0,236.39) scale(1.23,1)" font-family="'Liberation Sans', Arial, sans-serif" font-size="4.6" fill="#222">cell part</text>
<text transform="translate(241.0,239.56) scale(1.23,1)" font-family="'Liberation Sans', Arial, sans-serif" font-size="4.6" fill="#222">cell</text>
<text transform="translate(241.0,242.73) scale(1.23,1)" font-family="'Liberation Sans', Arial, sans-serif" font-size="4.6" fill="#222">viral reproduction</text>
<text transform="translate(241.0,245.90) scale(1.23,1)" font-family="'Liberation Sans', Arial, sans-serif" font-size="4.6" fill="#222">signaling</text>
<text transform="translate(241.0,249.07) scale(1.23,1)" font-family="'Liberation Sans', Arial, sans-serif" font-size="4.6" fill="#222">rhythmic process</text>
<text transform="translate(241.0,252.24) scale(1.23,1)" font-family="'Liberation Sans', Arial, sans-serif" font-size="4.6" fill="#222">response to stimulus</text>
<text transform="translate(241.0,255.41) scale(1.23,1)" font-family="'Liberation Sans', Arial, sans-serif" font-size="4.6" fill="#222">reproductive process</text>
<text transform="translate(241.0,258.58) scale(1.23,1)" font-family="'Liberation Sans', Arial, sans-serif" font-size="4.6" fill="#222">reproduction</text>
<text transform="translate(241.0,261.75) scale(1.23,1)" font-family="'Liberation Sans', Arial, sans-serif" font-size="4.6" fill="#222">regulation of biological process</text>
<text transform="translate(241.0,264.92) scale(1.23,1)" font-family="'Liberation Sans', Arial, sans-serif" font-size="4.6" fill="#222">positive regulation of biological process</text>
<text transform="translate(241.0,268.09) scale(1.23,1)" font-family="'Liberation Sans', Arial, sans-serif" font-size="4.6" fill="#222">negative regulation of biological process</text>
<text transform="translate(241.0,271.26) scale(1.23,1)" font-family="'Liberation Sans', Arial, sans-serif" font-size="4.6" fill="#222">multicellular organismal process</text>
<text transform="translate(241.0,274.43) scale(1.23,1)" font-family="'Liberation Sans', Arial, sans-serif" font-size="4.6" fill="#222">multi-organism process</text>
<text transform="translate(241.0,277.60) scale(1.23,1)" font-family="'Liberation Sans', Arial, sans-serif" font-size="4.6" fill="#222">metabolic process</text>
<text transform="translate(241.0,280.77) scale(1.23,1)" font-family="'Liberation Sans', Arial, sans-serif" font-size="4.6" fill="#222">locomotion</text>
<text transform="translate(241.0,283.93) scale(1.23,1)" font-family="'Liberation Sans', Arial, sans-serif" font-size="4.6" fill="#222">localization</text>
<text transform="translate(241.0,287.10) scale(1.23,1)" font-family="'Liberation Sans', Arial, sans-serif" font-size="4.6" fill="#222">immune system process</text>
<text transform="translate(241.0,290.27) scale(1.23,1)" font-family="'Liberation Sans', Arial, sans-serif" font-size="4.6" fill="#222">growth</text>
<text transform="translate(241.0,293.44) scale(1.23,1)" font-family="'Liberation Sans', Arial, sans-serif" font-size="4.6" fill="#222">establishment of localization</text>
<text transform="translate(241.0,296.61) scale(1.23,1)" font-family="'Liberation Sans', Arial, sans-serif" font-size="4.6" fill="#222">developmental process</text>
<text transform="translate(241.0,299.78) scale(1.23,1)" font-family="'Liberation Sans', Arial, sans-serif" font-size="4.6" fill="#222">death</text>
<text transform="translate(241.0,302.95) scale(1.23,1)" font-family="'Liberation Sans', Arial, sans-serif" font-size="4.6" fill="#222">cellular process</text>
<text transform="translate(241.0,306.12) scale(1.23,1)" font-family="'Liberation Sans', Arial, sans-serif" font-size="4.6" fill="#222">cellular component organization or biogenesis</text>
<text transform="translate(241.0,309.29) scale(1.23,1)" font-family="'Liberation Sans', Arial, sans-serif" font-size="4.6" fill="#222">cell proliferation</text>
<text transform="translate(241.0,312.46) scale(1.23,1)" font-family="'Liberation Sans', Arial, sans-serif" font-size="4.6" fill="#222">cell killing</text>
<text transform="translate(241.0,315.63) scale(1.23,1)" font-family="'Liberation Sans', Arial, sans-serif" font-size="4.6" fill="#222">biological regulation</text>
<text transform="translate(241.0,318.80) scale(1.23,1)" font-family="'Liberation Sans', Arial, sans-serif" font-size="4.6" fill="#222">biological adhesion</text>
<line x1="235.1" x2="235.1" y1="171.5" y2="319.2" stroke="#f2bfae" stroke-width="1.4"/>
<line x1="234.5" x2="320" y1="171.50" y2="171.50" stroke="#eca890" stroke-width="0.8"/>
<text x="320.0" y="172.10" font-family="'Liberation Serif', 'Times New Roman', serif" font-size="7.0" fill="#eca890">molecular_function</text>
<line x1="234.5" x2="320" y1="202.93" y2="202.93" stroke="#eca890" stroke-width="0.8"/>
<text x="320.0" y="203.53" font-family="'Liberation Serif', 'Times New Roman', serif" font-size="7.0" fill="#eca890">cellular_component</text>
<line x1="234.5" x2="320" y1="240.64" y2="240.64" stroke="#eca890" stroke-width="0.8"/>
<text x="320.0" y="241.24" font-family="'Liberation Serif', 'Times New Roman', serif" font-size="7.0" fill="#eca890">biological_process</text>
<line x1="234.5" x2="375.5" y1="319.2" y2="319.2" stroke="#eca890" stroke-width="0.8"/>
<text transform="translate(22.8,337.80) scale(0.83,1)" font-family="'Liberation Sans', Arial, sans-serif" font-weight="bold" font-size="4.9" fill="#111" stroke="#111" stroke-width="0.22">Cellular Processes</text>
<text transform="translate(24.3,342.10) scale(0.92,1)" font-family="'Liberation Sans', Arial, sans-serif" font-size="4.8" fill="#6ccdbd" stroke="#6ccdbd" stroke-width="0.09">Transport and catabolism</text>
<text transform="translate(24.3,345.48) scale(0.92,1)" font-family="'Liberation Sans', Arial, sans-serif" font-size="4.8" fill="#6ccdbd" stroke="#6ccdbd" stroke-width="0.09">Cellular community - prokaryotes</text>
<text transform="translate(24.3,348.86) scale(0.92,1)" font-family="'Liberation Sans', Arial, sans-serif" font-size="4.8" fill="#6ccdbd" stroke="#6ccdbd" stroke-width="0.09">Cellular community - eukaryotes</text>
<text transform="translate(24.3,352.24) scale(0.92,1)" font-family="'Liberation Sans', Arial, sans-serif" font-size="4.8" fill="#6ccdbd" stroke="#6ccdbd" stroke-width="0.09">Cell motility</text>
<text transform="translate(24.3,355.62) scale(0.92,1)" font-family="'Liberation Sans', Arial, sans-serif" font-size="4.8" fill="#6ccdbd" stroke="#6ccdbd" stroke-width="0.09">Cell growth and death</text>
<text transform="translate(22.8,362.90) scale(0.83,1)" font-family="'Liberation Sans', Arial, sans-serif" font-weight="bold" font-size="4.9" fill="#111" stroke="#111" stroke-width="0.22">Environmental Information Processing</text>
<text transform="translate(24.3,365.90) scale(0.92,1)" font-family="'Liberation Sans', Arial, sans-serif" font-size="4.8" fill="#f9a94b" stroke="#f9a94b" stroke-width="0.09">Signal transduction</text>
<text transform="translate(24.3,369.28) scale(0.92,1)" font-family="'Liberation Sans', Arial, sans-serif" font-size="4.8" fill="#f9a94b" stroke="#f9a94b" stroke-width="0.09">Membrane transport</text>
<text transform="translate(22.8,376.30) scale(0.83,1)" font-family="'Liberation Sans', Arial, sans-serif" font-weight="bold" font-size="4.9" fill="#111" stroke="#111" stroke-width="0.22">Genetic Information Processing</text>
<text transform="translate(24.3,379.40) scale(0.92,1)" font-family="'Liberation Sans', Arial, sans-serif" font-size="4.8" fill="#b4b6e4" stroke="#b4b6e4" stroke-width="0.09">Translation</text>
<text transform="translate(24.3,382.78) scale(0.92,1)" font-family="'Liberation Sans', Arial, sans-serif" font-size="4.8" fill="#b4b6e4" stroke="#b4b6e4" stroke-width="0.09">Transcription</text>
<text transform="translate(24.3,386.16) scale(0.92,1)" font-family="'Liberation Sans', Arial, sans-serif" font-size="4.8" fill="#b4b6e4" stroke="#b4b6e4" stroke-width="0.09">Replication and repair</text>
<text transform="translate(24.3,389.54) scale(0.92,1)" font-family="'Liberation Sans', Arial, sans-serif" font-size="4.8" fill="#b4b6e4" stroke="#b4b6e4" stroke-width="0.09">Folding, sorting and degradation</text>
<text transform="translate(22.8,396.10) scale(0.83,1)" font-family="'Liberation Sans', Arial, sans-serif" font-weight="bold" font-size="4.9" fill="#111" stroke="#111" stroke-width="0.22">Human Diseases</text>
<text transform="translate(24.3,399.40) scale(0.92,1)" font-family="'Liberation Sans', Arial, sans-serif" font-size="4.8" fill="#f4786a" stroke="#f4786a" stroke-width="0.09">Substance dependence</text>
<text transform="translate(24.3,402.78) scale(0.92,1)" font-family="'Liberation Sans', Arial, sans-serif" font-size="4.8" fill="#f4786a" stroke="#f4786a" stroke-width="0.09">Neurodegenerative diseases</text>
<text transform="translate(24.3,406.16) scale(0.92,1)" font-family="'Liberation Sans', Arial, sans-serif" font-size="4.8" fill="#f4786a" stroke="#f4786a" stroke-width="0.09">Infectious diseases: Viral</text>
<text transform="translate(24.3,409.54) scale(0.92,1)" font-family="'Liberation Sans', Arial, sans-serif" font-size="4.8" fill="#f4786a" stroke="#f4786a" stroke-width="0.09">Infectious diseases: Parasitic</text>
<text transform="translate(24.3,412.92) scale(0.92,1)" font-family="'Liberation Sans', Arial, sans-serif" font-size="4.8" fill="#f4786a" stroke="#f4786a" stroke-width="0.09">Infectious diseases: Bacterial</text>
<text transform="translate(24.3,416.30) scale(0.92,1)" font-family="'Liberation Sans', Arial, sans-serif" font-size="4.8" fill="#f4786a" stroke="#f4786a" stroke-width="0.09">Immune diseases</text>
<text transform="translate(24.3,419.68) scale(0.92,1)" font-family="'Liberation Sans', Arial, sans-serif" font-size="4.8" fill="#f4786a" stroke="#f4786a" stroke-width="0.09">Endocrine and metabolic diseases</text>
<text transform="translate(24.3,423.06) scale(0.92,1)" font-family="'Liberation Sans', Arial, sans-serif" font-size="4.8" fill="#f4786a" stroke="#f4786a" stroke-width="0.09">Drug resistance: Antineoplastic</text>
<text transform="translate(24.3,426.44) scale(0.92,1)" font-family="'Liberation Sans', Arial, sans-serif" font-size="4.8" fill="#f4786a" stroke="#f4786a" stroke-width="0.09">Drug resistance: Antimicrobial</text>
<text transform="translate(24.3,429.82) scale(0.92,1)" font-family="'Liberation Sans', Arial, sans-serif" font-size="4.8" fill="#f4786a" stroke="#f4786a" stroke-width="0.09">Cardiovascular diseases</text>
<text transform="translate(24.3,433.20) scale(0.92,1)" font-family="'Liberation Sans', Arial, sans-serif" font-size="4.8" fill="#f4786a" stroke="#f4786a" stroke-width="0.09">Cancers: Specific types</text>
<text transform="translate(24.3,436.58) scale(0.92,1)" font-family="'Liberation Sans', Arial, sans-serif" font-size="4.8" fill="#f4786a" stroke="#f4786a" stroke-width="0.09">Cancers: Overview</text>
<text transform="translate(22.8,444.10) scale(0.83,1)" font-family="'Liberation Sans', Arial, sans-serif" font-weight="bold" font-size="4.9" fill="#111" stroke="#111" stroke-width="0.22">Metabolism</text>
<text transform="translate(24.3,447.10) scale(0.92,1)" font-family="'Liberation Sans', Arial, sans-serif" font-size="4.8" fill="#6aa3d5" stroke="#6aa3d5" stroke-width="0.09">Xenobiotics biodegradation and metabolism</text>
<text transform="translate(24.3,450.48) scale(0.92,1)" font-family="'Liberation Sans', Arial, sans-serif" font-size="4.8" fill="#6aa3d5" stroke="#6aa3d5" stroke-width="0.09">Nucleotide metabolism</text>
<text transform="translate(24.3,453.86) scale(0.92,1)" font-family="'Liberation Sans', Arial, sans-serif" font-size="4.8" fill="#6aa3d5" stroke="#6aa3d5" stroke-width="0.09">Metabolism of terpenoids and polyketides</text>
<text transform="translate(24.3,457.24) scale(0.92,1)" font-family="'Liberation Sans', Arial, sans-serif" font-size="4.8" fill="#6aa3d5" stroke="#6aa3d5" stroke-width="0.09">Metabolism of other amino acids</text>
<text transform="translate(24.3,460.62) scale(0.92,1)" font-family="'Liberation Sans', Arial, sans-serif" font-size="4.8" fill="#6aa3d5" stroke="#6aa3d5" stroke-width="0.09">Metabolism of cofactors and vitamins</text>
<text transform="translate(24.3,464.00) scale(0.92,1)" font-family="'Liberation Sans', Arial, sans-serif" font-size="4.8" fill="#6aa3d5" stroke="#6aa3d5" stroke-width="0.09">Lipid metabolism</text>
<text transform="translate(24.3,467.38) scale(0.92,1)" font-family="'Liberation Sans', Arial, sans-serif" font-size="4.8" fill="#6aa3d5" stroke="#6aa3d5" stroke-width="0.09">Glycan biosynthesis and metabolism</text>
<text transform="translate(24.3,470.76) scale(0.92,1)" font-family="'Liberation Sans', Arial, sans-serif" font-size="4.8" fill="#6aa3d5" stroke="#6aa3d5" stroke-width="0.09">Global and overview maps</text>
<text transform="translate(24.3,474.14) scale(0.92,1)" font-family="'Liberation Sans', Arial, sans-serif" font-size="4.8" fill="#6aa3d5" stroke="#6aa3d5" stroke-width="0.09">Energy metabolism</text>
<text transform="translate(24.3,477.52) scale(0.92,1)" font-family="'Liberation Sans', Arial, sans-serif" font-size="4.8" fill="#6aa3d5" stroke="#6aa3d5" stroke-width="0.09">Carbohydrate metabolism</text>
<text transform="translate(24.3,480.90) scale(0.92,1)" font-family="'Liberation Sans', Arial, sans-serif" font-size="4.8" fill="#6aa3d5" stroke="#6aa3d5" stroke-width="0.09">Biosynthesis of other secondary metabolites</text>
<text transform="translate(24.3,484.28) scale(0.92,1)" font-family="'Liberation Sans', Arial, sans-serif" font-size="4.8" fill="#6aa3d5" stroke="#6aa3d5" stroke-width="0.09">Amino acid metabolism</text>
<text transform="translate(22.8,491.10) scale(0.83,1)" font-family="'Liberation Sans', Arial, sans-serif" font-weight="bold" font-size="4.9" fill="#111" stroke="#111" stroke-width="0.22">Organismal Systems</text>
<text transform="translate(24.3,494.20) scale(0.92,1)" font-family="'Liberation Sans', Arial, sans-serif" font-size="4.8" fill="#f9a94b" stroke="#f9a94b" stroke-width="0.09">Sensory system</text>
<text transform="translate(24.3,497.58) scale(0.92,1)" font-family="'Liberation Sans', Arial, sans-serif" font-size="4.8" fill="#f9a94b" stroke="#f9a94b" stroke-width="0.09">Nervous system</text>
<text transform="translate(24.3,500.96) scale(0.92,1)" font-family="'Liberation Sans', Arial, sans-serif" font-size="4.8" fill="#f9a94b" stroke="#f9a94b" stroke-width="0.09">Immune system</text>
<text transform="translate(24.3,504.34) scale(0.92,1)" font-family="'Liberation Sans', Arial, sans-serif" font-size="4.8" fill="#f9a94b" stroke="#f9a94b" stroke-width="0.09">Excretory system</text>
<text transform="translate(24.3,507.72) scale(0.92,1)" font-family="'Liberation Sans', Arial, sans-serif" font-size="4.8" fill="#f9a94b" stroke="#f9a94b" stroke-width="0.09">Environmental adaptation</text>
<text transform="translate(24.3,511.10) scale(0.92,1)" font-family="'Liberation Sans', Arial, sans-serif" font-size="4.8" fill="#f9a94b" stroke="#f9a94b" stroke-width="0.09">Endocrine system</text>
<text transform="translate(24.3,514.48) scale(0.92,1)" font-family="'Liberation Sans', Arial, sans-serif" font-size="4.8" fill="#f9a94b" stroke="#f9a94b" stroke-width="0.09">Digestive system</text>
<text transform="translate(24.3,517.86) scale(0.92,1)" font-family="'Liberation Sans', Arial, sans-serif" font-size="4.8" fill="#f9a94b" stroke="#f9a94b" stroke-width="0.09">Development</text>
<text transform="translate(24.3,521.24) scale(0.92,1)" font-family="'Liberation Sans', Arial, sans-serif" font-size="4.8" fill="#f9a94b" stroke="#f9a94b" stroke-width="0.09">Circulatory system</text>
<text transform="translate(24.3,524.62) scale(0.92,1)" font-family="'Liberation Sans', Arial, sans-serif" font-size="4.8" fill="#f9a94b" stroke="#f9a94b" stroke-width="0.09">Aging</text>
<text x="98.9" y="343.1" font-family="'Liberation Sans', Arial, sans-serif" font-weight="bold" font-size="13.5" fill="#000" stroke="#000" stroke-width="1.0">C</text>
<line x1="145.10" x2="145.10" y1="333.5" y2="525.8" stroke="#f1f1f1" stroke-width="0.5"/>
<line x1="174.40" x2="174.40" y1="333.5" y2="525.8" stroke="#f1f1f1" stroke-width="0.5"/>
<line x1="203.70" x2="203.70" y1="333.5" y2="525.8" stroke="#f1f1f1" stroke-width="0.5"/>
<rect x="115.0" y="338.55" width="36.60" height="2.9" fill="#6ccdbd"/>
<text x="151.80" y="340.60" font-family="'Liberation Sans', Arial, sans-serif" font-size="2.7" fill="#222">248</text>
<rect x="115.0" y="341.93" width="4.00" height="2.9" fill="#6ccdbd"/>
<text x="119.20" y="343.98" font-family="'Liberation Sans', Arial, sans-serif" font-size="2.7" fill="#222">27</text>
<rect x="115.0" y="345.31" width="7.00" height="2.9" fill="#6ccdbd"/>
<text x="122.20" y="347.36" font-family="'Liberation Sans', Arial, sans-serif" font-size="2.7" fill="#222">47</text>
<rect x="115.0" y="348.69" width="5.00" height="2.9" fill="#6ccdbd"/>
<text x="120.20" y="350.74" font-family="'Liberation Sans', Arial, sans-serif" font-size="2.7" fill="#222">34</text>
<rect x="115.0" y="352.07" width="24.00" height="2.9" fill="#6ccdbd"/>
<text x="139.20" y="354.12" font-family="'Liberation Sans', Arial, sans-serif" font-size="2.7" fill="#222">163</text>
<rect x="115.0" y="362.35" width="32.60" height="2.9" fill="#f9a94b"/>
<text x="147.80" y="364.40" font-family="'Liberation Sans', Arial, sans-serif" font-size="2.7" fill="#222">221</text>
<rect x="115.0" y="365.73" width="3.60" height="2.9" fill="#f9a94b"/>
<text x="118.80" y="367.78" font-family="'Liberation Sans', Arial, sans-serif" font-size="2.7" fill="#222">24</text>
<rect x="115.0" y="375.85" width="41.70" height="2.9" fill="#b4b6e4"/>
<text x="156.90" y="377.90" font-family="'Liberation Sans', Arial, sans-serif" font-size="2.7" fill="#222">283</text>
<rect x="115.0" y="379.23" width="18.70" height="2.9" fill="#b4b6e4"/>
<text x="133.90" y="381.28" font-family="'Liberation Sans', Arial, sans-serif" font-size="2.7" fill="#222">127</text>
<rect x="115.0" y="382.61" width="15.60" height="2.9" fill="#b4b6e4"/>
<text x="130.80" y="384.66" font-family="'Liberation Sans', Arial, sans-serif" font-size="2.7" fill="#222">106</text>
<rect x="115.0" y="385.99" width="31.40" height="2.9" fill="#b4b6e4"/>
<text x="146.60" y="388.04" font-family="'Liberation Sans', Arial, sans-serif" font-size="2.7" fill="#222">213</text>
<rect x="115.0" y="395.85" width="5.30" height="2.9" fill="#f4786a"/>
<text x="120.50" y="397.90" font-family="'Liberation Sans', Arial, sans-serif" font-size="2.7" fill="#222">36</text>
<rect x="115.0" y="399.23" width="14.80" height="2.9" fill="#f4786a"/>
<text x="130.00" y="401.28" font-family="'Liberation Sans', Arial, sans-serif" font-size="2.7" fill="#222">100</text>
<rect x="115.0" y="402.61" width="24.80" height="2.9" fill="#f4786a"/>
<text x="140.00" y="404.66" font-family="'Liberation Sans', Arial, sans-serif" font-size="2.7" fill="#222">168</text>
<rect x="115.0" y="405.99" width="4.50" height="2.9" fill="#f4786a"/>
<text x="119.70" y="408.04" font-family="'Liberation Sans', Arial, sans-serif" font-size="2.7" fill="#222">30</text>
<rect x="115.0" y="409.37" width="11.60" height="2.9" fill="#f4786a"/>
<text x="126.80" y="411.42" font-family="'Liberation Sans', Arial, sans-serif" font-size="2.7" fill="#222">78</text>
<rect x="115.0" y="412.75" width="6.00" height="2.9" fill="#f4786a"/>
<text x="121.20" y="414.80" font-family="'Liberation Sans', Arial, sans-serif" font-size="2.7" fill="#222">40</text>
<rect x="115.0" y="416.13" width="11.60" height="2.9" fill="#f4786a"/>
<text x="126.80" y="418.18" font-family="'Liberation Sans', Arial, sans-serif" font-size="2.7" fill="#222">78</text>
<rect x="115.0" y="419.51" width="8.50" height="2.9" fill="#f4786a"/>
<text x="123.70" y="421.56" font-family="'Liberation Sans', Arial, sans-serif" font-size="2.7" fill="#222">57</text>
<rect x="115.0" y="422.89" width="1.30" height="2.9" fill="#f4786a"/>
<text x="116.50" y="424.94" font-family="'Liberation Sans', Arial, sans-serif" font-size="2.7" fill="#222">8</text>
<rect x="115.0" y="426.27" width="5.30" height="2.9" fill="#f4786a"/>
<text x="120.50" y="428.32" font-family="'Liberation Sans', Arial, sans-serif" font-size="2.7" fill="#222">36</text>
<rect x="115.0" y="429.65" width="9.00" height="2.9" fill="#f4786a"/>
<text x="124.20" y="431.70" font-family="'Liberation Sans', Arial, sans-serif" font-size="2.7" fill="#222">61</text>
<rect x="115.0" y="433.03" width="18.00" height="2.9" fill="#f4786a"/>
<text x="133.20" y="435.08" font-family="'Liberation Sans', Arial, sans-serif" font-size="2.7" fill="#222">122</text>
<rect x="115.0" y="443.55" width="12.70" height="2.9" fill="#6aa3d5"/>
<text x="127.90" y="445.60" font-family="'Liberation Sans', Arial, sans-serif" font-size="2.7" fill="#222">86</text>
<rect x="115.0" y="446.93" width="15.60" height="2.9" fill="#6aa3d5"/>
<text x="130.80" y="448.98" font-family="'Liberation Sans', Arial, sans-serif" font-size="2.7" fill="#222">106</text>
<rect x="115.0" y="450.31" width="6.10" height="2.9" fill="#6aa3d5"/>
<text x="121.30" y="452.36" font-family="'Liberation Sans', Arial, sans-serif" font-size="2.7" fill="#222">41</text>
<rect x="115.0" y="453.69" width="12.70" height="2.9" fill="#6aa3d5"/>
<text x="127.90" y="455.74" font-family="'Liberation Sans', Arial, sans-serif" font-size="2.7" fill="#222">86</text>
<rect x="115.0" y="457.07" width="19.90" height="2.9" fill="#6aa3d5"/>
<text x="135.10" y="459.12" font-family="'Liberation Sans', Arial, sans-serif" font-size="2.7" fill="#222">135</text>
<rect x="115.0" y="460.45" width="19.90" height="2.9" fill="#6aa3d5"/>
<text x="135.10" y="462.50" font-family="'Liberation Sans', Arial, sans-serif" font-size="2.7" fill="#222">135</text>
<rect x="115.0" y="463.83" width="9.00" height="2.9" fill="#6aa3d5"/>
<text x="124.20" y="465.88" font-family="'Liberation Sans', Arial, sans-serif" font-size="2.7" fill="#222">61</text>
<rect x="115.0" y="467.21" width="115.00" height="2.9" fill="#6aa3d5"/>
<text x="230.20" y="469.26" font-family="'Liberation Sans', Arial, sans-serif" font-size="2.7" fill="#222">782</text>
<rect x="115.0" y="470.59" width="22.40" height="2.9" fill="#6aa3d5"/>
<text x="137.60" y="472.64" font-family="'Liberation Sans', Arial, sans-serif" font-size="2.7" fill="#222">152</text>
<rect x="115.0" y="473.97" width="39.30" height="2.9" fill="#6aa3d5"/>
<text x="154.50" y="476.02" font-family="'Liberation Sans', Arial, sans-serif" font-size="2.7" fill="#222">267</text>
<rect x="115.0" y="477.35" width="7.90" height="2.9" fill="#6aa3d5"/>
<text x="123.10" y="479.40" font-family="'Liberation Sans', Arial, sans-serif" font-size="2.7" fill="#222">53</text>
<rect x="115.0" y="480.73" width="36.20" height="2.9" fill="#6aa3d5"/>
<text x="151.40" y="482.78" font-family="'Liberation Sans', Arial, sans-serif" font-size="2.7" fill="#222">246</text>
<rect x="115.0" y="490.65" width="2.30" height="2.9" fill="#f9a94b"/>
<text x="117.50" y="492.70" font-family="'Liberation Sans', Arial, sans-serif" font-size="2.7" fill="#222">15</text>
<rect x="115.0" y="494.03" width="13.40" height="2.9" fill="#f9a94b"/>
<text x="128.60" y="496.08" font-family="'Liberation Sans', Arial, sans-serif" font-size="2.7" fill="#222">91</text>
<rect x="115.0" y="497.41" width="12.60" height="2.9" fill="#f9a94b"/>
<text x="127.80" y="499.46" font-family="'Liberation Sans', Arial, sans-serif" font-size="2.7" fill="#222">85</text>
<rect x="115.0" y="500.79" width="7.40" height="2.9" fill="#f9a94b"/>
<text x="122.60" y="502.84" font-family="'Liberation Sans', Arial, sans-serif" font-size="2.7" fill="#222">50</text>
<rect x="115.0" y="504.17" width="13.70" height="2.9" fill="#f9a94b"/>
<text x="128.90" y="506.22" font-family="'Liberation Sans', Arial, sans-serif" font-size="2.7" fill="#222">93</text>
<rect x="115.0" y="507.55" width="17.70" height="2.9" fill="#f9a94b"/>
<text x="132.90" y="509.60" font-family="'Liberation Sans', Arial, sans-serif" font-size="2.7" fill="#222">120</text>
<rect x="115.0" y="510.93" width="7.40" height="2.9" fill="#f9a94b"/>
<text x="122.60" y="512.98" font-family="'Liberation Sans', Arial, sans-serif" font-size="2.7" fill="#222">50</text>
<rect x="115.0" y="514.31" width="5.00" height="2.9" fill="#f9a94b"/>
<text x="120.20" y="516.36" font-family="'Liberation Sans', Arial, sans-serif" font-size="2.7" fill="#222">34</text>
<rect x="115.0" y="517.69" width="5.80" height="2.9" fill="#f9a94b"/>
<text x="121.00" y="519.74" font-family="'Liberation Sans', Arial, sans-serif" font-size="2.7" fill="#222">39</text>
<rect x="115.0" y="521.07" width="8.20" height="2.9" fill="#f9a94b"/>
<text x="123.40" y="523.12" font-family="'Liberation Sans', Arial, sans-serif" font-size="2.7" fill="#222">55</text>
<rect x="112.4" y="333.5" width="121.1" height="192.29999999999995" fill="none" stroke="#666" stroke-width="0.7"/>
<line x1="115.80" x2="115.80" y1="525.8" y2="528.3" stroke="#666" stroke-width="0.5"/>
<text transform="translate(115.80,537.1) scale(0.92,1)" text-anchor="middle" font-family="'Liberation Sans', Arial, sans-serif" font-size="4.4" fill="#222">0</text>
<line x1="145.10" x2="145.10" y1="525.8" y2="528.3" stroke="#666" stroke-width="0.5"/>
<text transform="translate(145.10,537.1) scale(0.92,1)" text-anchor="middle" font-family="'Liberation Sans', Arial, sans-serif" font-size="4.4" fill="#222">200</text>
<line x1="174.40" x2="174.40" y1="525.8" y2="528.3" stroke="#666" stroke-width="0.5"/>
<text transform="translate(174.40,537.1) scale(0.92,1)" text-anchor="middle" font-family="'Liberation Sans', Arial, sans-serif" font-size="4.4" fill="#222">400</text>
<line x1="203.70" x2="203.70" y1="525.8" y2="528.3" stroke="#666" stroke-width="0.5"/>
<text transform="translate(203.70,537.1) scale(0.92,1)" text-anchor="middle" font-family="'Liberation Sans', Arial, sans-serif" font-size="4.4" fill="#222">600</text>
<line x1="233.00" x2="233.00" y1="525.8" y2="528.3" stroke="#666" stroke-width="0.5"/>
<text transform="translate(233.00,537.1) scale(0.92,1)" text-anchor="middle" font-family="'Liberation Sans', Arial, sans-serif" font-size="4.4" fill="#222">800</text>
<text transform="translate(174.90,548.3) scale(0.84,1)" text-anchor="middle" font-family="'Liberation Sans', Arial, sans-serif" font-size="4.9" fill="#111">Number of Genes</text>
<text x="237.2" y="343.1" font-family="'Liberation Sans', Arial, sans-serif" font-weight="bold" font-size="13.5" fill="#000" stroke="#000" stroke-width="1.0">D</text>
<line x1="282.38" x2="282.38" y1="333.5" y2="525.8" stroke="#f1f1f1" stroke-width="0.5"/>
<line x1="310.25" x2="310.25" y1="333.5" y2="525.8" stroke="#f1f1f1" stroke-width="0.5"/>
<line x1="338.12" x2="338.12" y1="333.5" y2="525.8" stroke="#f1f1f1" stroke-width="0.5"/>
<rect x="253.4" y="338.55" width="35.90" height="2.9" fill="#6ccdbd"/>
<text x="289.50" y="340.60" font-family="'Liberation Sans', Arial, sans-serif" font-size="2.7" fill="#222">244</text>
<rect x="253.4" y="341.93" width="3.90" height="2.9" fill="#6ccdbd"/>
<text x="257.50" y="343.98" font-family="'Liberation Sans', Arial, sans-serif" font-size="2.7" fill="#222">26</text>
<rect x="253.4" y="345.31" width="6.60" height="2.9" fill="#6ccdbd"/>
<text x="260.20" y="347.36" font-family="'Liberation Sans', Arial, sans-serif" font-size="2.7" fill="#222">44</text>
<rect x="253.4" y="348.69" width="4.30" height="2.9" fill="#6ccdbd"/>
<text x="257.90" y="350.74" font-family="'Liberation Sans', Arial, sans-serif" font-size="2.7" fill="#222">29</text>
<rect x="253.4" y="352.07" width="22.50" height="2.9" fill="#6ccdbd"/>
<text x="276.10" y="354.12" font-family="'Liberation Sans', Arial, sans-serif" font-size="2.7" fill="#222">152</text>
<rect x="253.4" y="362.35" width="32.00" height="2.9" fill="#f9a94b"/>
<text x="285.60" y="364.40" font-family="'Liberation Sans', Arial, sans-serif" font-size="2.7" fill="#222">217</text>
<rect x="253.4" y="365.73" width="2.60" height="2.9" fill="#f9a94b"/>
<text x="256.20" y="367.78" font-family="'Liberation Sans', Arial, sans-serif" font-size="2.7" fill="#222">17</text>
<rect x="253.4" y="375.85" width="39.90" height="2.9" fill="#b4b6e4"/>
<text x="293.50" y="377.90" font-family="'Liberation Sans', Arial, sans-serif" font-size="2.7" fill="#222">271</text>
<rect x="253.4" y="379.23" width="18.50" height="2.9" fill="#b4b6e4"/>
<text x="272.10" y="381.28" font-family="'Liberation Sans', Arial, sans-serif" font-size="2.7" fill="#222">125</text>
<rect x="253.4" y="382.61" width="14.60" height="2.9" fill="#b4b6e4"/>
<text x="268.20" y="384.66" font-family="'Liberation Sans', Arial, sans-serif" font-size="2.7" fill="#222">99</text>
<rect x="253.4" y="385.99" width="30.40" height="2.9" fill="#b4b6e4"/>
<text x="284.00" y="388.04" font-family="'Liberation Sans', Arial, sans-serif" font-size="2.7" fill="#222">206</text>
<rect x="253.4" y="395.85" width="5.80" height="2.9" fill="#f4786a"/>
<text x="259.40" y="397.90" font-family="'Liberation Sans', Arial, sans-serif" font-size="2.7" fill="#222">39</text>
<rect x="253.4" y="399.23" width="14.60" height="2.9" fill="#f4786a"/>
<text x="268.20" y="401.28" font-family="'Liberation Sans', Arial, sans-serif" font-size="2.7" fill="#222">99</text>
<rect x="253.4" y="402.61" width="23.30" height="2.9" fill="#f4786a"/>
<text x="276.90" y="404.66" font-family="'Liberation Sans', Arial, sans-serif" font-size="2.7" fill="#222">158</text>
<rect x="253.4" y="405.99" width="4.60" height="2.9" fill="#f4786a"/>
<text x="258.20" y="408.04" font-family="'Liberation Sans', Arial, sans-serif" font-size="2.7" fill="#222">31</text>
<rect x="253.4" y="409.37" width="10.60" height="2.9" fill="#f4786a"/>
<text x="264.20" y="411.42" font-family="'Liberation Sans', Arial, sans-serif" font-size="2.7" fill="#222">72</text>
<rect x="253.4" y="412.75" width="5.10" height="2.9" fill="#f4786a"/>
<text x="258.70" y="414.80" font-family="'Liberation Sans', Arial, sans-serif" font-size="2.7" fill="#222">34</text>
<rect x="253.4" y="416.13" width="12.20" height="2.9" fill="#f4786a"/>
<text x="265.80" y="418.18" font-family="'Liberation Sans', Arial, sans-serif" font-size="2.7" fill="#222">82</text>
<rect x="253.4" y="419.51" width="7.40" height="2.9" fill="#f4786a"/>
<text x="261.00" y="421.56" font-family="'Liberation Sans', Arial, sans-serif" font-size="2.7" fill="#222">50</text>
<rect x="253.4" y="422.89" width="2.40" height="2.9" fill="#f4786a"/>
<text x="256.00" y="424.94" font-family="'Liberation Sans', Arial, sans-serif" font-size="2.7" fill="#222">16</text>
<rect x="253.4" y="426.27" width="5.10" height="2.9" fill="#f4786a"/>
<text x="258.70" y="428.32" font-family="'Liberation Sans', Arial, sans-serif" font-size="2.7" fill="#222">34</text>
<rect x="253.4" y="429.65" width="7.40" height="2.9" fill="#f4786a"/>
<text x="261.00" y="431.70" font-family="'Liberation Sans', Arial, sans-serif" font-size="2.7" fill="#222">50</text>
<rect x="253.4" y="433.03" width="16.60" height="2.9" fill="#f4786a"/>
<text x="270.20" y="435.08" font-family="'Liberation Sans', Arial, sans-serif" font-size="2.7" fill="#222">112</text>
<rect x="253.4" y="443.55" width="12.10" height="2.9" fill="#6aa3d5"/>
<text x="265.70" y="445.60" font-family="'Liberation Sans', Arial, sans-serif" font-size="2.7" fill="#222">82</text>
<rect x="253.4" y="446.93" width="16.40" height="2.9" fill="#6aa3d5"/>
<text x="270.00" y="448.98" font-family="'Liberation Sans', Arial, sans-serif" font-size="2.7" fill="#222">111</text>
<rect x="253.4" y="450.31" width="5.60" height="2.9" fill="#6aa3d5"/>
<text x="259.20" y="452.36" font-family="'Liberation Sans', Arial, sans-serif" font-size="2.7" fill="#222">38</text>
<rect x="253.4" y="453.69" width="12.10" height="2.9" fill="#6aa3d5"/>
<text x="265.70" y="455.74" font-family="'Liberation Sans', Arial, sans-serif" font-size="2.7" fill="#222">82</text>
<rect x="253.4" y="457.07" width="20.90" height="2.9" fill="#6aa3d5"/>
<text x="274.50" y="459.12" font-family="'Liberation Sans', Arial, sans-serif" font-size="2.7" fill="#222">142</text>
<rect x="253.4" y="460.45" width="21.60" height="2.9" fill="#6aa3d5"/>
<text x="275.20" y="462.50" font-family="'Liberation Sans', Arial, sans-serif" font-size="2.7" fill="#222">146</text>
<rect x="253.4" y="463.83" width="8.60" height="2.9" fill="#6aa3d5"/>
<text x="262.20" y="465.88" font-family="'Liberation Sans', Arial, sans-serif" font-size="2.7" fill="#222">58</text>
<rect x="253.4" y="467.21" width="114.60" height="2.9" fill="#6aa3d5"/>
<text x="368.20" y="469.26" font-family="'Liberation Sans', Arial, sans-serif" font-size="2.7" fill="#222">779</text>
<rect x="253.4" y="470.59" width="22.60" height="2.9" fill="#6aa3d5"/>
<text x="276.20" y="472.64" font-family="'Liberation Sans', Arial, sans-serif" font-size="2.7" fill="#222">153</text>
<rect x="253.4" y="473.97" width="39.30" height="2.9" fill="#6aa3d5"/>
<text x="292.90" y="476.02" font-family="'Liberation Sans', Arial, sans-serif" font-size="2.7" fill="#222">267</text>
<rect x="253.4" y="477.35" width="8.60" height="2.9" fill="#6aa3d5"/>
<text x="262.20" y="479.40" font-family="'Liberation Sans', Arial, sans-serif" font-size="2.7" fill="#222">58</text>
<rect x="253.4" y="480.73" width="35.80" height="2.9" fill="#6aa3d5"/>
<text x="289.40" y="482.78" font-family="'Liberation Sans', Arial, sans-serif" font-size="2.7" fill="#222">243</text>
<rect x="253.4" y="490.65" width="4.00" height="2.9" fill="#f9a94b"/>
<text x="257.60" y="492.70" font-family="'Liberation Sans', Arial, sans-serif" font-size="2.7" fill="#222">27</text>
<rect x="253.4" y="494.03" width="13.60" height="2.9" fill="#f9a94b"/>
<text x="267.20" y="496.08" font-family="'Liberation Sans', Arial, sans-serif" font-size="2.7" fill="#222">92</text>
<rect x="253.4" y="497.41" width="12.80" height="2.9" fill="#f9a94b"/>
<text x="266.40" y="499.46" font-family="'Liberation Sans', Arial, sans-serif" font-size="2.7" fill="#222">87</text>
<rect x="253.4" y="500.79" width="6.50" height="2.9" fill="#f9a94b"/>
<text x="260.10" y="502.84" font-family="'Liberation Sans', Arial, sans-serif" font-size="2.7" fill="#222">44</text>
<rect x="253.4" y="504.17" width="14.60" height="2.9" fill="#f9a94b"/>
<text x="268.20" y="506.22" font-family="'Liberation Sans', Arial, sans-serif" font-size="2.7" fill="#222">99</text>
<rect x="253.4" y="507.55" width="15.60" height="2.9" fill="#f9a94b"/>
<text x="269.20" y="509.60" font-family="'Liberation Sans', Arial, sans-serif" font-size="2.7" fill="#222">106</text>
<rect x="253.4" y="510.93" width="7.60" height="2.9" fill="#f9a94b"/>
<text x="261.20" y="512.98" font-family="'Liberation Sans', Arial, sans-serif" font-size="2.7" fill="#222">51</text>
<rect x="253.4" y="514.31" width="4.00" height="2.9" fill="#f9a94b"/>
<text x="257.60" y="516.36" font-family="'Liberation Sans', Arial, sans-serif" font-size="2.7" fill="#222">27</text>
<rect x="253.4" y="517.69" width="5.60" height="2.9" fill="#f9a94b"/>
<text x="259.20" y="519.74" font-family="'Liberation Sans', Arial, sans-serif" font-size="2.7" fill="#222">38</text>
<rect x="253.4" y="521.07" width="7.60" height="2.9" fill="#f9a94b"/>
<text x="261.20" y="523.12" font-family="'Liberation Sans', Arial, sans-serif" font-size="2.7" fill="#222">51</text>
<rect x="250.2" y="333.5" width="121.40000000000003" height="192.29999999999995" fill="none" stroke="#666" stroke-width="0.7"/>
<line x1="254.50" x2="254.50" y1="525.8" y2="528.3" stroke="#666" stroke-width="0.5"/>
<text transform="translate(254.50,537.1) scale(0.92,1)" text-anchor="middle" font-family="'Liberation Sans', Arial, sans-serif" font-size="4.4" fill="#222">0</text>
<line x1="282.38" x2="282.38" y1="525.8" y2="528.3" stroke="#666" stroke-width="0.5"/>
<text transform="translate(282.38,537.1) scale(0.92,1)" text-anchor="middle" font-family="'Liberation Sans', Arial, sans-serif" font-size="4.4" fill="#222">200</text>
<line x1="310.25" x2="310.25" y1="525.8" y2="528.3" stroke="#666" stroke-width="0.5"/>
<text transform="translate(310.25,537.1) scale(0.92,1)" text-anchor="middle" font-family="'Liberation Sans', Arial, sans-serif" font-size="4.4" fill="#222">400</text>
<line x1="338.12" x2="338.12" y1="525.8" y2="528.3" stroke="#666" stroke-width="0.5"/>
<text transform="translate(338.12,537.1) scale(0.92,1)" text-anchor="middle" font-family="'Liberation Sans', Arial, sans-serif" font-size="4.4" fill="#222">600</text>
<line x1="366.00" x2="366.00" y1="525.8" y2="528.3" stroke="#666" stroke-width="0.5"/>
<text transform="translate(366.00,537.1) scale(0.92,1)" text-anchor="middle" font-family="'Liberation Sans', Arial, sans-serif" font-size="4.4" fill="#222">800</text>
<text transform="translate(310.75,548.3) scale(0.84,1)" text-anchor="middle" font-family="'Liberation Sans', Arial, sans-serif" font-size="4.9" fill="#111">Number of Genes</text>
</svg>
</body></html>
